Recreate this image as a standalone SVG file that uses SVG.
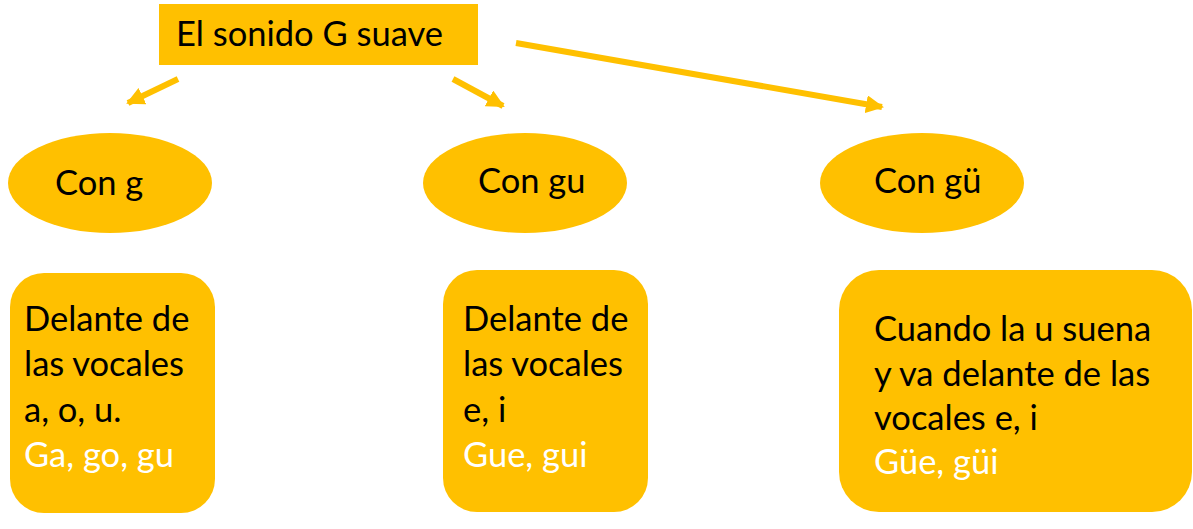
<svg xmlns="http://www.w3.org/2000/svg" width="1193" height="529" viewBox="0 0 1193 529">
<style>
  .shape { fill: #FFC000; }
  .t { font-family: Lato, "Liberation Sans", sans-serif; font-size: 34.5px; fill: #000000; }
  .w { fill: #FFFFFF; }
  .conn { stroke: #FFC000; stroke-width: 6; fill: none; marker-end: url(#ah); }
</style>
<defs>
  <marker id="ah" viewBox="0 0 18 18" refX="16" refY="9" markerWidth="18" markerHeight="18" markerUnits="userSpaceOnUse" orient="auto">
    <path d="M0,0 L18,9 L0,18 Z" fill="#FFC000"/>
  </marker>
</defs>
<rect width="1193" height="529" fill="#FFFFFF"/>
<g id="connectors">
  <line class="conn" x1="178" y1="79" x2="128" y2="103"/>
  <line class="conn" x1="453" y1="79" x2="503" y2="106"/>
  <line class="conn" x1="516" y1="43" x2="882" y2="107"/>
</g>
<g id="title">
  <rect class="shape" x="159" y="4" width="319" height="61"/>
  <text class="t" x="176" y="46" font-size="31">El sonido G suave</text>
</g>
<g id="con-g">
  <ellipse class="shape" cx="110" cy="183" rx="102" ry="50"/>
  <text class="t" x="55" y="195" font-size="31">Con g</text>
</g>
<g id="con-gu">
  <ellipse class="shape" cx="525" cy="183" rx="102" ry="50"/>
  <text class="t" x="478" y="193" font-size="31">Con gu</text>
</g>
<g id="con-gue">
  <ellipse class="shape" cx="922" cy="183" rx="102" ry="50"/>
  <text class="t" x="874" y="193" font-size="31">Con gü</text>
</g>
<g id="box-g">
  <rect class="shape" x="10" y="273" width="205" height="240" rx="34"/>
  <text class="t" x="24" y="331">Delante de</text>
  <text class="t" x="24" y="376">las vocales</text>
  <text class="t" x="24" y="422">a, o, u.</text>
  <text class="t w" x="24" y="467">Ga, go, gu</text>
</g>
<g id="box-gu">
  <rect class="shape" x="443" y="270" width="205" height="242" rx="34"/>
  <text class="t" x="463" y="331">Delante de</text>
  <text class="t" x="463" y="376">las vocales</text>
  <text class="t" x="463" y="422">e, i</text>
  <text class="t w" x="463" y="467">Gue, gui</text>
</g>
<g id="box-gue">
  <rect class="shape" x="839" y="270" width="353" height="242" rx="40"/>
  <text class="t" x="874" y="341">Cuando la u suena</text>
  <text class="t" x="874" y="386">y va delante de las</text>
  <text class="t" x="874" y="430">vocales e, i</text>
  <text class="t w" x="874" y="474">Güe, güi</text>
</g>
</svg>
